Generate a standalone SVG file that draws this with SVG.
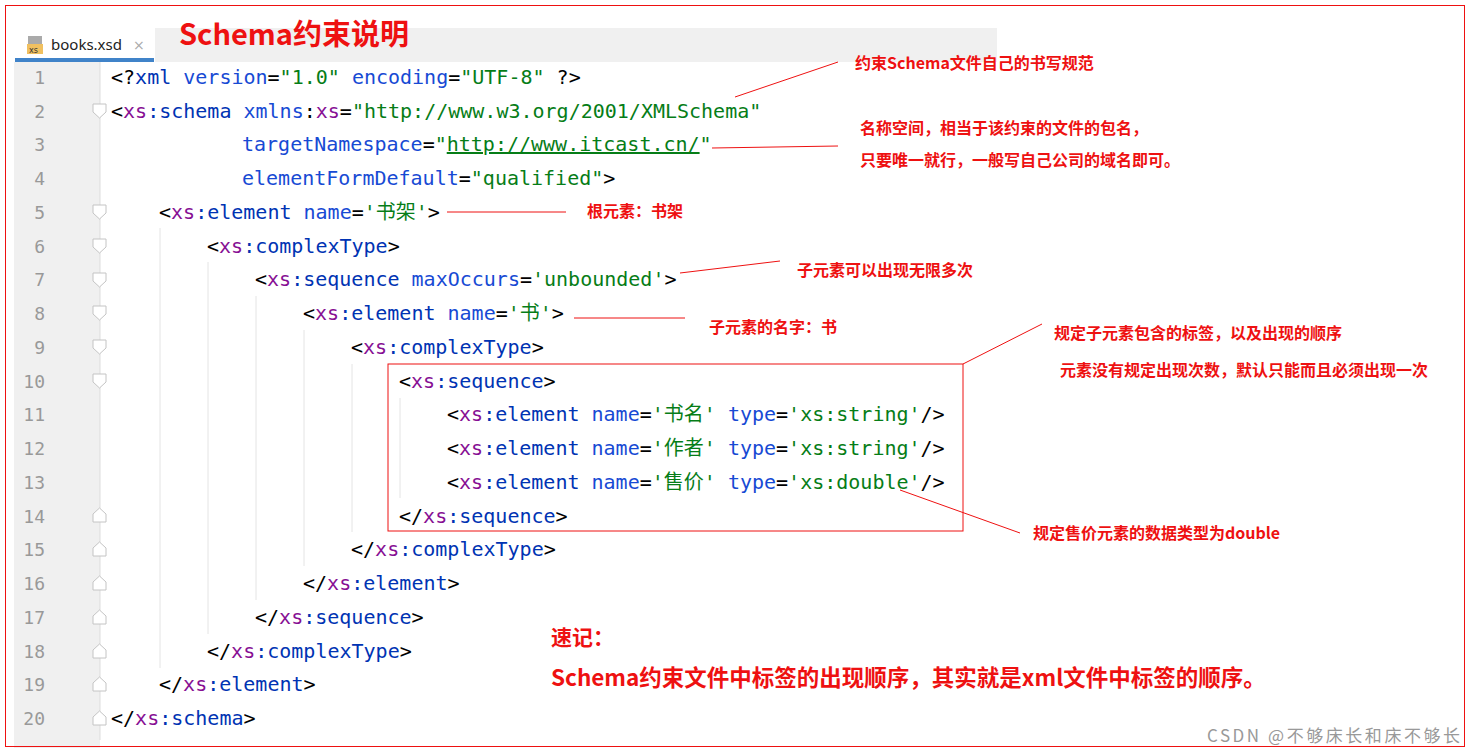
<svg xmlns="http://www.w3.org/2000/svg" width="1474" height="755" viewBox="0 0 1474 755">
<style>
.c{font-family:"DejaVu Sans Mono","Noto Sans CJK SC",monospace;font-size:20px;fill:#000}
.p{fill:#871094}.t{fill:#0033b3}.a{fill:#174ad4}.v{fill:#067d17}
.n{font-family:"DejaVu Sans Mono",monospace;font-size:18px;fill:#999;text-anchor:end}
.r{font-family:"Noto Sans CJK SC",sans-serif;font-weight:bold;fill:#ee1111;font-size:16px}
.l{stroke:#ee1111;stroke-width:1;fill:none}
.g{stroke:#e4e4e4;stroke-width:1}
.fd{fill:#fff;stroke:#c4c4c4;stroke-width:1}
</style>
<rect width="1474" height="755" fill="#fff"/>
<rect x="14" y="28" width="983" height="34" fill="#f0f0f0"/>
<rect x="14" y="28" width="141" height="34" fill="#fff"/>
<rect x="15" y="58" width="139" height="4" fill="#4083c9"/>
<rect x="14" y="62" width="86" height="686" fill="#f0f0f0"/>
<line x1="100" y1="62" x2="100" y2="740" stroke="#ddd"/>
<rect x="28" y="36" width="14" height="8" fill="#aaa"/>
<rect x="27" y="44" width="16" height="10" fill="#f0c060"/>
<text x="29" y="53" font-family="DejaVu Sans" font-size="8" fill="#333">xs</text>
<text x="51" y="50" font-family="Noto Sans" font-size="15" fill="#222">books.xsd</text>
<text x="133" y="50" font-family="DejaVu Sans" font-size="14" fill="#aaa">×</text>
<text x="179" y="45" font-family="Noto Sans CJK SC,sans-serif" font-weight="bold" font-size="29" fill="#ee1111">Schema约束说明</text>
<g class="g">
<line x1="160" y1="228" x2="160" y2="668"/><line x1="208" y1="262" x2="208" y2="634"/>
<line x1="256" y1="296" x2="256" y2="600"/><line x1="304" y1="330" x2="304" y2="566"/>
<line x1="352" y1="364" x2="352" y2="532"/><line x1="400" y1="398" x2="400" y2="498"/>
</g>
<g id="gutter">
<text class="n" x="45" y="84">1</text><text class="n" x="45" y="118">2</text><text class="n" x="45" y="151">3</text><text class="n" x="45" y="185">4</text><text class="n" x="45" y="219">5</text><text class="n" x="45" y="253">6</text><text class="n" x="45" y="286">7</text><text class="n" x="45" y="320">8</text><text class="n" x="45" y="354">9</text><text class="n" x="45" y="388">10</text><text class="n" x="45" y="421">11</text><text class="n" x="45" y="455">12</text><text class="n" x="45" y="489">13</text><text class="n" x="45" y="523">14</text><text class="n" x="45" y="556">15</text><text class="n" x="45" y="590">16</text><text class="n" x="45" y="624">17</text><text class="n" x="45" y="658">18</text><text class="n" x="45" y="691">19</text><text class="n" x="45" y="725">20</text>
<g class="fd">
<path d="M93,104h13v8l-6.5,6l-6.5,-6z"/><path d="M93,205h13v8l-6.5,6l-6.5,-6z"/><path d="M93,239h13v8l-6.5,6l-6.5,-6z"/><path d="M93,273h13v8l-6.5,6l-6.5,-6z"/><path d="M93,306h13v8l-6.5,6l-6.5,-6z"/><path d="M93,340h13v8l-6.5,6l-6.5,-6z"/><path d="M93,374h13v8l-6.5,6l-6.5,-6z"/>
<path d="M93,522h13v-8l-6.5,-6l-6.5,6z"/><path d="M93,556h13v-8l-6.5,-6l-6.5,6z"/><path d="M93,590h13v-8l-6.5,-6l-6.5,6z"/><path d="M93,624h13v-8l-6.5,-6l-6.5,6z"/><path d="M93,658h13v-8l-6.5,-6l-6.5,6z"/><path d="M93,691h13v-8l-6.5,-6l-6.5,6z"/><path d="M93,725h13v-8l-6.5,-6l-6.5,6z"/>
</g>
</g>
<g id="code" class="c">
<text x="111" y="84">&lt;?<tspan class="t">xml</tspan> <tspan class="a">version</tspan>=<tspan class="v">"1.0"</tspan> <tspan class="a">encoding</tspan>=<tspan class="v">"UTF-8"</tspan> ?&gt;</text>
<text x="111" y="118">&lt;<tspan class="p">xs</tspan><tspan class="t">:schema</tspan> <tspan class="a">xmlns</tspan>:<tspan class="p">xs</tspan>=<tspan class="v">"http://www.w3.org/2001/XMLSchema"</tspan></text>
<text x="242" y="151"><tspan class="a">targetNamespace</tspan>=<tspan class="v">"<tspan text-decoration="underline">http://www.itcast.cn/</tspan>"</tspan></text>
<text x="242" y="185"><tspan class="a">elementFormDefault</tspan>=<tspan class="v">"qualified"</tspan>&gt;</text>
<text x="159" y="219">&lt;<tspan class="p">xs</tspan><tspan class="t">:element</tspan> <tspan class="a">name</tspan>=<tspan class="v">'书架'</tspan>&gt;</text>
<text x="207" y="253">&lt;<tspan class="p">xs</tspan><tspan class="t">:complexType</tspan>&gt;</text>
<text x="255" y="286">&lt;<tspan class="p">xs</tspan><tspan class="t">:sequence</tspan> <tspan class="a">maxOccurs</tspan>=<tspan class="v">'unbounded'</tspan>&gt;</text>
<text x="303" y="320">&lt;<tspan class="p">xs</tspan><tspan class="t">:element</tspan> <tspan class="a">name</tspan>=<tspan class="v">'书'</tspan>&gt;</text>
<text x="351" y="354">&lt;<tspan class="p">xs</tspan><tspan class="t">:complexType</tspan>&gt;</text>
<text x="399" y="388">&lt;<tspan class="p">xs</tspan><tspan class="t">:sequence</tspan>&gt;</text>
<text x="447" y="421">&lt;<tspan class="p">xs</tspan><tspan class="t">:element</tspan> <tspan class="a">name</tspan>=<tspan class="v">'书名'</tspan> <tspan class="a">type</tspan>=<tspan class="v">'xs:string'</tspan>/&gt;</text>
<text x="447" y="455">&lt;<tspan class="p">xs</tspan><tspan class="t">:element</tspan> <tspan class="a">name</tspan>=<tspan class="v">'作者'</tspan> <tspan class="a">type</tspan>=<tspan class="v">'xs:string'</tspan>/&gt;</text>
<text x="447" y="489">&lt;<tspan class="p">xs</tspan><tspan class="t">:element</tspan> <tspan class="a">name</tspan>=<tspan class="v">'售价'</tspan> <tspan class="a">type</tspan>=<tspan class="v">'xs:double'</tspan>/&gt;</text>
<text x="399" y="523">&lt;/<tspan class="p">xs</tspan><tspan class="t">:sequence</tspan>&gt;</text>
<text x="351" y="556">&lt;/<tspan class="p">xs</tspan><tspan class="t">:complexType</tspan>&gt;</text>
<text x="303" y="590">&lt;/<tspan class="p">xs</tspan><tspan class="t">:element</tspan>&gt;</text>
<text x="255" y="624">&lt;/<tspan class="p">xs</tspan><tspan class="t">:sequence</tspan>&gt;</text>
<text x="207" y="658">&lt;/<tspan class="p">xs</tspan><tspan class="t">:complexType</tspan>&gt;</text>
<text x="159" y="691">&lt;/<tspan class="p">xs</tspan><tspan class="t">:element</tspan>&gt;</text>
<text x="111" y="725">&lt;/<tspan class="p">xs</tspan><tspan class="t">:schema</tspan>&gt;</text>
</g>
<g id="connectors" class="l">
<line x1="735" y1="97" x2="838" y2="62"/>
<line x1="712" y1="148" x2="838" y2="146"/>
<line x1="447" y1="212" x2="566" y2="212"/>
<line x1="680" y1="273" x2="780" y2="261"/>
<line x1="574" y1="318" x2="685" y2="318"/>
<line x1="963" y1="364" x2="1042" y2="324"/>
<line x1="900" y1="490" x2="1020" y2="533"/>
<rect x="388" y="364" width="575" height="167"/>
</g>
<g id="notes" class="r">
<text x="855" y="69">约束Schema文件自己的书写规范</text>
<text x="860" y="134">名称空间，相当于该约束的文件的包名，</text>
<text x="860" y="166">只要唯一就行，一般写自己公司的域名即可。</text>
<text x="587" y="217">根元素：书架</text>
<text x="797" y="276">子元素可以出现无限多次</text>
<text x="709" y="333">子元素的名字：书</text>
<text x="1054" y="339">规定子元素包含的标签，以及出现的顺序</text>
<text x="1060" y="376">元素没有规定出现次数，默认只能而且必须出现一次</text>
<text x="1033" y="539">规定售价元素的数据类型为double</text>
<text x="551" y="645" font-size="21">速记：</text>
<text x="551" y="686" font-size="22.5">Schema约束文件中标签的出现顺序，其实就是xml文件中标签的顺序。</text>
</g>
<text x="1207" y="742" font-family="Noto Sans CJK SC,sans-serif" font-size="17" fill="#999" textLength="253">CSDN @不够床长和床不够长</text>
<rect x="5.5" y="5.5" width="1459" height="741" fill="none" stroke="#ee1111"/>
</svg>
